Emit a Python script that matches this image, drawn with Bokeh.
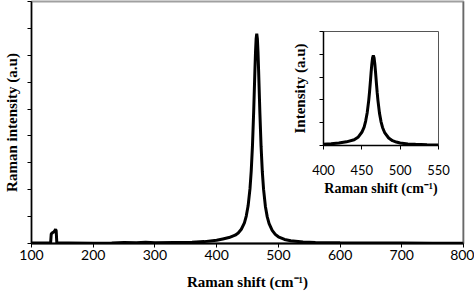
from bokeh.plotting import figure
from bokeh.models import Range1d, FixedTicker, GridBox, Span
from bokeh.embed import file_html
from bokeh.resources import INLINE

# Full Raman spectrum
shift = [100, 110, 120, 128, 131, 132, 134, 136, 138, 139, 140, 141, 143, 160,
         200, 230, 250, 270, 285, 300, 330, 360, 380, 400, 410, 420, 430, 435,
         440, 445, 448, 451, 454, 456, 458, 460, 462, 463, 464, 465, 466, 467,
         468, 470, 472, 474, 476, 479, 482, 485, 490, 495, 500, 510, 520, 540,
         560, 600, 650, 700, 750, 800]
intensity = [0.02, 0.02, 0.02, 0.02, 0.03, 0.36, 0.40, 0.43, 0.48, 0.53, 0.47,
             0.03, 0.02, 0.02, 0.01, 0.02, 0.04, 0.03, 0.05, 0.03, 0.04, 0.05,
             0.07, 0.12, 0.17, 0.22, 0.31, 0.39, 0.53, 0.77, 1.02, 1.40, 2.03,
             2.68, 3.61, 4.90, 6.43, 7.13, 7.62, 7.80, 7.62, 7.13, 6.43, 4.90,
             3.61, 2.67, 2.02, 1.38, 0.99, 0.74, 0.49, 0.34, 0.25, 0.15, 0.10,
             0.06, 0.04, 0.03, 0.02, 0.02, 0.01, 0.01]

# Zoom on the main band
inset_shift = [400, 410, 420, 430, 440, 445, 450, 453, 455, 457, 459, 460, 461,
               462, 463, 464, 465, 466, 467, 468, 469, 470, 471, 473, 475, 477,
               480, 485, 490, 495, 500, 510, 520, 535, 550]
inset_intensity = [0.06, 0.08, 0.11, 0.16, 0.25, 0.36, 0.58, 0.81, 1.07, 1.44,
                   1.98, 2.33, 2.74, 3.16, 3.56, 3.84, 3.95, 3.84, 3.56, 3.16,
                   2.74, 2.33, 1.98, 1.42, 1.05, 0.79, 0.55, 0.33, 0.21, 0.15,
                   0.11, 0.07, 0.05, 0.03, 0.02]

x_ticks = [100, 200, 300, 400, 500, 600, 700, 800]
y_ticks = [0, 1, 2, 3, 4, 5, 6, 7, 8, 9]
inset_x_ticks = [400, 450, 500, 550]
inset_y_ticks = [0, 1, 2, 3, 4, 5]

SANS = "Lato"
SERIF = "Liberation Serif"


def style_axes(fig, tick_font, title_font_x, title_font_y):
    fig.xgrid.visible = False
    fig.ygrid.visible = False
    for ax in (fig.xaxis, fig.yaxis):
        ax.minor_tick_line_color = None
        ax.major_tick_in = 0
        ax.major_tick_out = 4
        ax.axis_line_color = "black"
        ax.major_tick_line_color = "black"
        ax.axis_label_text_font = SERIF
        ax.axis_label_text_font_style = "bold"
        ax.axis_label_text_color = "black"
    fig.xaxis.major_label_text_font = SANS
    fig.xaxis.major_label_text_font_size = tick_font
    fig.xaxis.major_label_text_color = "black"
    fig.xaxis.axis_label_text_font_size = title_font_x
    fig.yaxis.axis_label_text_font_size = title_font_y
    # unlabelled intensity ticks
    fig.yaxis.major_label_text_color = None
    fig.yaxis.major_label_text_font_size = "1px"
    fig.yaxis.major_label_standoff = 0


# Main panel
p = figure(width=474, height=293, output_backend="svg", toolbar_location=None,
           x_range=Range1d(100, 800), y_range=Range1d(0, 9),
           min_border_left=28, min_border_right=11, min_border_top=1,
           min_border_bottom=50)
p.line(shift, intensity, line_color="black", line_width=3)
style_axes(p, "14px", "15px", "15px")
p.xaxis.ticker = FixedTicker(ticks=x_ticks)
p.yaxis.ticker = FixedTicker(ticks=y_ticks)
p.xaxis.axis_label = "Raman shift (cm⁻¹)"
p.yaxis.axis_label = "Raman intensity (a.u)"
p.xaxis.axis_line_width = 2
p.yaxis.axis_line_width = 1.5
p.xaxis.major_label_standoff = 2
p.xaxis.axis_label_standoff = 11
p.yaxis.axis_label_standoff = 8
p.outline_line_color = "#a0a0a0"
p.outline_line_width = 2
p.add_layout(Span(location=800, dimension="height", line_color="#333333",
                  line_width=1.5))

# Inset panel
q = figure(width=165, height=176, output_backend="svg", toolbar_location=None,
           x_range=Range1d(400, 550), y_range=Range1d(0, 5),
           min_border_left=38, min_border_right=12, min_border_top=9,
           min_border_bottom=53)
q.line(inset_shift, inset_intensity, line_color="black", line_width=3)
style_axes(q, "13px", "14px", "15px")
q.xaxis.ticker = FixedTicker(ticks=inset_x_ticks)
q.yaxis.ticker = FixedTicker(ticks=inset_y_ticks)
q.xaxis.axis_label = "Raman shift (cm⁻¹)"
q.yaxis.axis_label = "Intensity (a.u)"
q.xaxis.major_label_standoff = 15
q.xaxis.axis_label_standoff = 3
q.yaxis.axis_label_standoff = 12
q.xaxis.axis_line_width = 1.5
q.yaxis.axis_line_width = 1.5
q.outline_line_color = "#555555"
q.outline_line_width = 1

layout = GridBox(
    children=[(p, 0, 0, 3, 3), (q, 1, 1)],
    rows=["22px", "176px", "95px"],
    cols=["285px", "165px", "24px"],
)

open("out.html", "w").write(file_html(layout, INLINE))
